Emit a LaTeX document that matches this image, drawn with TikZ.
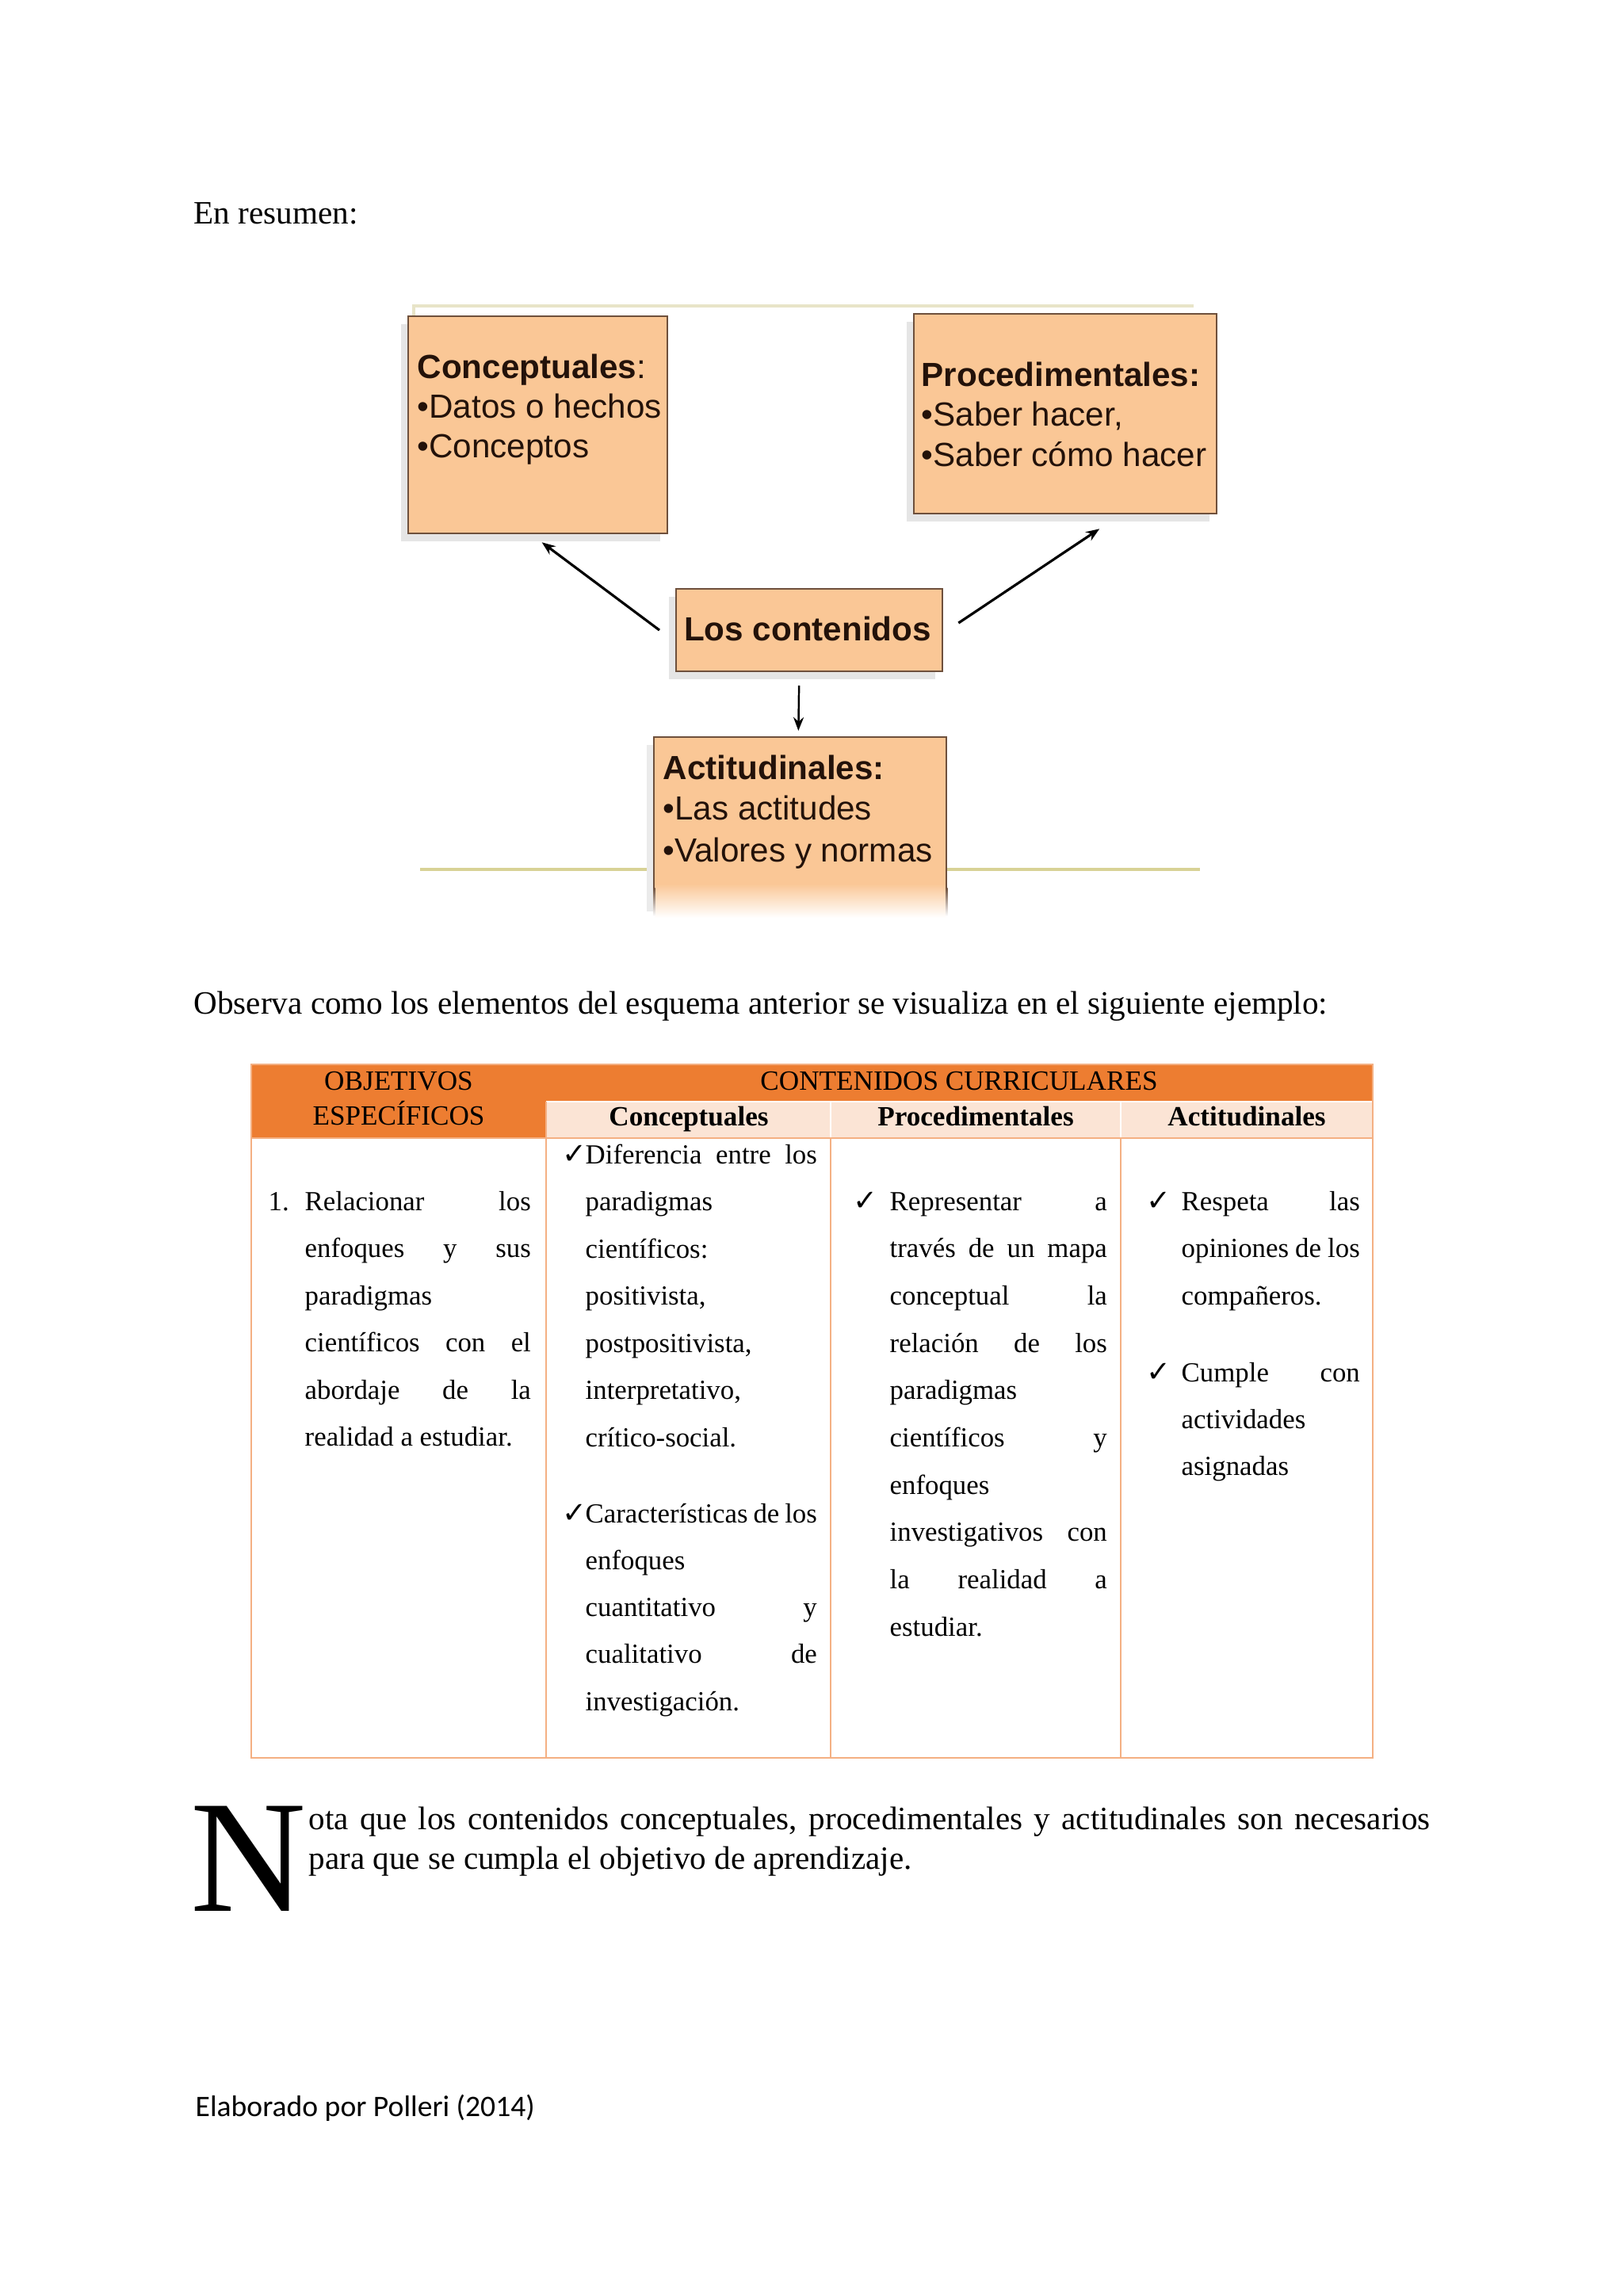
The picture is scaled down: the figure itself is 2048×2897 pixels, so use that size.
\documentclass[tikz,border=0pt]{standalone}
\usepackage{fontspec}
\setmainfont{Liberation Serif}
\newfontfamily\arialf{Liberation Sans}
\newfontfamily\calibrif{Carlito}
\newfontfamily\symbf{DejaVu Sans}
\usetikzlibrary{arrows.meta,shadows}
\definecolor{peach}{RGB}{250,199,150}
\definecolor{boxline}{RGB}{110,80,60}
\definecolor{boxtext}{RGB}{35,18,10}
\definecolor{hdrorange}{RGB}{237,125,49}
\definecolor{subpeach}{RGB}{251,228,213}
\definecolor{tline}{RGB}{244,176,131}
\definecolor{topline}{RGB}{232,228,200}
\definecolor{oliveline}{RGB}{216,210,150}
\newcommand{\jl}[2]{\makebox[#1][s]{#2}}
\newcommand{\chk}{{\symbf\fontsize{10.5}{12}\selectfont ✓}}
\begin{document}
\begin{tikzpicture}[x=0.01cm,y=-0.01cm,
  cbox/.style={draw=boxline,line width=0.6pt,fill=peach,inner sep=0pt,anchor=north west,
    drop shadow={shadow xshift=-0.09cm,shadow yshift=-0.1cm,fill=black!10,opacity=1}},
  btxt/.style={font=\arialf\fontsize{12}{14}\selectfont,text=boxtext,inner sep=0pt,anchor=base west},
  ptxt/.style={font=\fontsize{11.7}{14}\selectfont,inner sep=0pt,anchor=base west},
  tcell/.style={font=\fontsize{9.9}{12}\selectfont,inner sep=0pt,anchor=base west},
  thead/.style={font=\fontsize{10}{12}\selectfont,inner sep=0pt,anchor=base},
  arr/.style={-{Stealth[length=0.17cm,width=0.13cm]},line width=0.9pt,black}]
\fill[white] (0,0) rectangle (2048,2897);
\useasboundingbox (0,0) rectangle (2048,2897);
\node[ptxt] (resumen) at (244,282) {En resumen:};
% esquema
\draw[topline,line width=1.2pt] (522,398) -- (522,386) -- (1506,386);
\draw[oliveline,line width=1.2pt] (530,1097) -- (1514,1097);
\node[cbox,minimum width=3.27cm,minimum height=2.74cm] (concept) at (514,398) {};
\node[cbox,minimum width=3.82cm,minimum height=2.52cm] (proced) at (1152,395) {};
\node[cbox,minimum width=3.36cm,minimum height=1.04cm] (contenidos) at (852,742) {};
\fill[black!8] (816,940) rectangle (825,1150);
\fill[peach] (825,930) rectangle (1194,1115);
\shade[top color=peach,bottom color=white] (825,1115) rectangle (1194,1158);
\draw[boxline,line width=0.6pt] (825,1120) -- (825,930) -- (1194,930) -- (1194,1120);
\shade[top color=boxline,bottom color=white] (824,1120) rectangle (826.5,1156);
\shade[top color=boxline,bottom color=white] (1193,1120) rectangle (1195.5,1156);
\node[inner sep=0pt,minimum width=3.69cm,minimum height=2.25cm,anchor=north west] (actitud) at (825,930) {};
\node[btxt] (c1) at (526,477) {\textbf{Conceptuales}:};
\node[btxt] (c2) at (526,527) {•Datos o hechos};
\node[btxt] (c3) at (526,577) {•Conceptos};
\node[btxt] (p1) at (1162,487) {\textbf{Procedimentales:}};
\node[btxt] (p2) at (1162,537) {•Saber hacer,};
\node[btxt] (p3) at (1162,588) {•Saber cómo hacer};
\node[btxt,anchor=base] (l1) at (1019,808) {\textbf{Los contenidos}};
\node[btxt] (a1) at (836,983) {\textbf{Actitudinales:}};
\node[btxt] (a2) at (836,1034) {•Las actitudes};
\node[btxt] (a3) at (836,1087) {•Valores y normas};
\draw[arr] ([xshift=-0.2cm]contenidos.west) -- ([xshift=0.05cm,yshift=-0.1cm]concept.south);
\draw[arr] ([xshift=0.19cm,yshift=0.09cm]contenidos.east) -- ([xshift=0.43cm,yshift=-0.18cm]proced.south);
\draw[arr,line width=0.7pt] ([xshift=-0.13cm,yshift=-0.17cm]contenidos.south) -- ([xshift=-0.03cm,yshift=0.08cm]actitud.north);
\node[ptxt] (observa) at (244,1279) {Observa como los elementos del esquema anterior se visualiza en el siguiente ejemplo:};
% tabla
\fill[hdrorange] (317,1343) rectangle (1732,1390);
\fill[hdrorange] (317,1390) rectangle (689,1436);
\fill[subpeach] (689,1390) rectangle (1732,1436);
\draw[white,line width=0.6pt] (689,1390) -- (1732,1390) (1048,1390) -- (1048,1436) (1414,1390) -- (1414,1436);
\draw[tline,line width=0.8pt] (317,1343) rectangle (1732,2218) (317,1436) -- (1732,1436);
\draw[tline,line width=0.8pt] (689,1390) -- (689,2218) (1048,1436) -- (1048,2218) (1414,1436) -- (1414,2218);
\node[thead] (h1) at (503,1375) {OBJETIVOS};
\node[thead] (h2) at (503,1419) {ESPECÍFICOS};
\node[thead] (h3) at (1210,1375) {CONTENIDOS CURRICULARES};
\node[thead,font=\bfseries\fontsize{10}{12}\selectfont] (s1) at (869,1420) {Conceptuales};
\node[thead,font=\bfseries\fontsize{10}{12}\selectfont] (s2) at (1231,1420) {Procedimentales};
\node[thead,font=\bfseries\fontsize{10}{12}\selectfont] (s3) at (1573,1420) {Actitudinales};
\node[tcell] (num) at (338,1527) {1.};
\foreach \t [count=\i from 0] in {\jl{2.85cm}{Relacionar los},\jl{2.85cm}{enfoques y sus},paradigmas,
  \jl{2.85cm}{científicos con el},\jl{2.85cm}{abordaje de la},realidad a estudiar.}
  \node[tcell] (oa\i) at (384,{1527+59.5*\i}) {\t};
\node[tcell] (k1) at (709,1468) {\chk};
\foreach \t [count=\i from 0] in {\jl{2.92cm}{Diferencia entre los},paradigmas,científicos:,
  {positivista,},{postpositivista,},{interpretativo,},crítico-social.}
  \node[tcell] (ca\i) at (738,{1468+59.5*\i}) {\t};
\node[tcell] (k2) at (709,1921) {\chk};
\foreach \t [count=\i from 0] in {\jl{2.92cm}{Características de los},enfoques,\jl{2.92cm}{cuantitativo y},
  \jl{2.92cm}{cualitativo de},investigación.}
  \node[tcell] (cb\i) at (738,{1921+59.3*\i}) {\t};
\node[tcell] (k3) at (1076,1527) {\chk};
\foreach \t [count=\i from 0] in {\jl{2.74cm}{Representar a},\jl{2.74cm}{través de un mapa},\jl{2.74cm}{conceptual la},
  \jl{2.74cm}{relación de los},paradigmas,\jl{2.74cm}{científicos y},enfoques,\jl{2.74cm}{investigativos con},
  \jl{2.74cm}{la realidad a},estudiar.}
  \node[tcell] (pa\i) at (1122,{1527+59.7*\i}) {\t};
\node[tcell] (k4) at (1446,1527) {\chk};
\foreach \t [count=\i from 0] in {\jl{2.25cm}{Respeta las},\jl{2.25cm}{opiniones de los},compañeros.}
  \node[tcell] (aa\i) at (1490,{1527+59.5*\i}) {\t};
\node[tcell] (k5) at (1446,1743) {\chk};
\foreach \t [count=\i from 0] in {\jl{2.25cm}{Cumple con},actividades,asignadas}
  \node[tcell] (ab\i) at (1490,{1743+59.3*\i}) {\t};
% nota
\node[inner sep=0pt,anchor=base west,font=\fontsize{57.5}{60}\selectfont] (dropN) at (240,2411) {N};
\node[ptxt] (n1) at (389,2308) {\jl{14.14cm}{ota que los contenidos conceptuales, procedimentales y actitudinales son necesarios}};
\node[ptxt] (n2) at (389,2358) {para que se cumpla el objetivo de aprendizaje.};
\node[inner sep=0pt,anchor=base west,font=\calibrif\fontsize{10.7}{13}\selectfont] (autor) at (246,2670) {Elaborado por Polleri (2014)};
\end{tikzpicture}
\end{document}
